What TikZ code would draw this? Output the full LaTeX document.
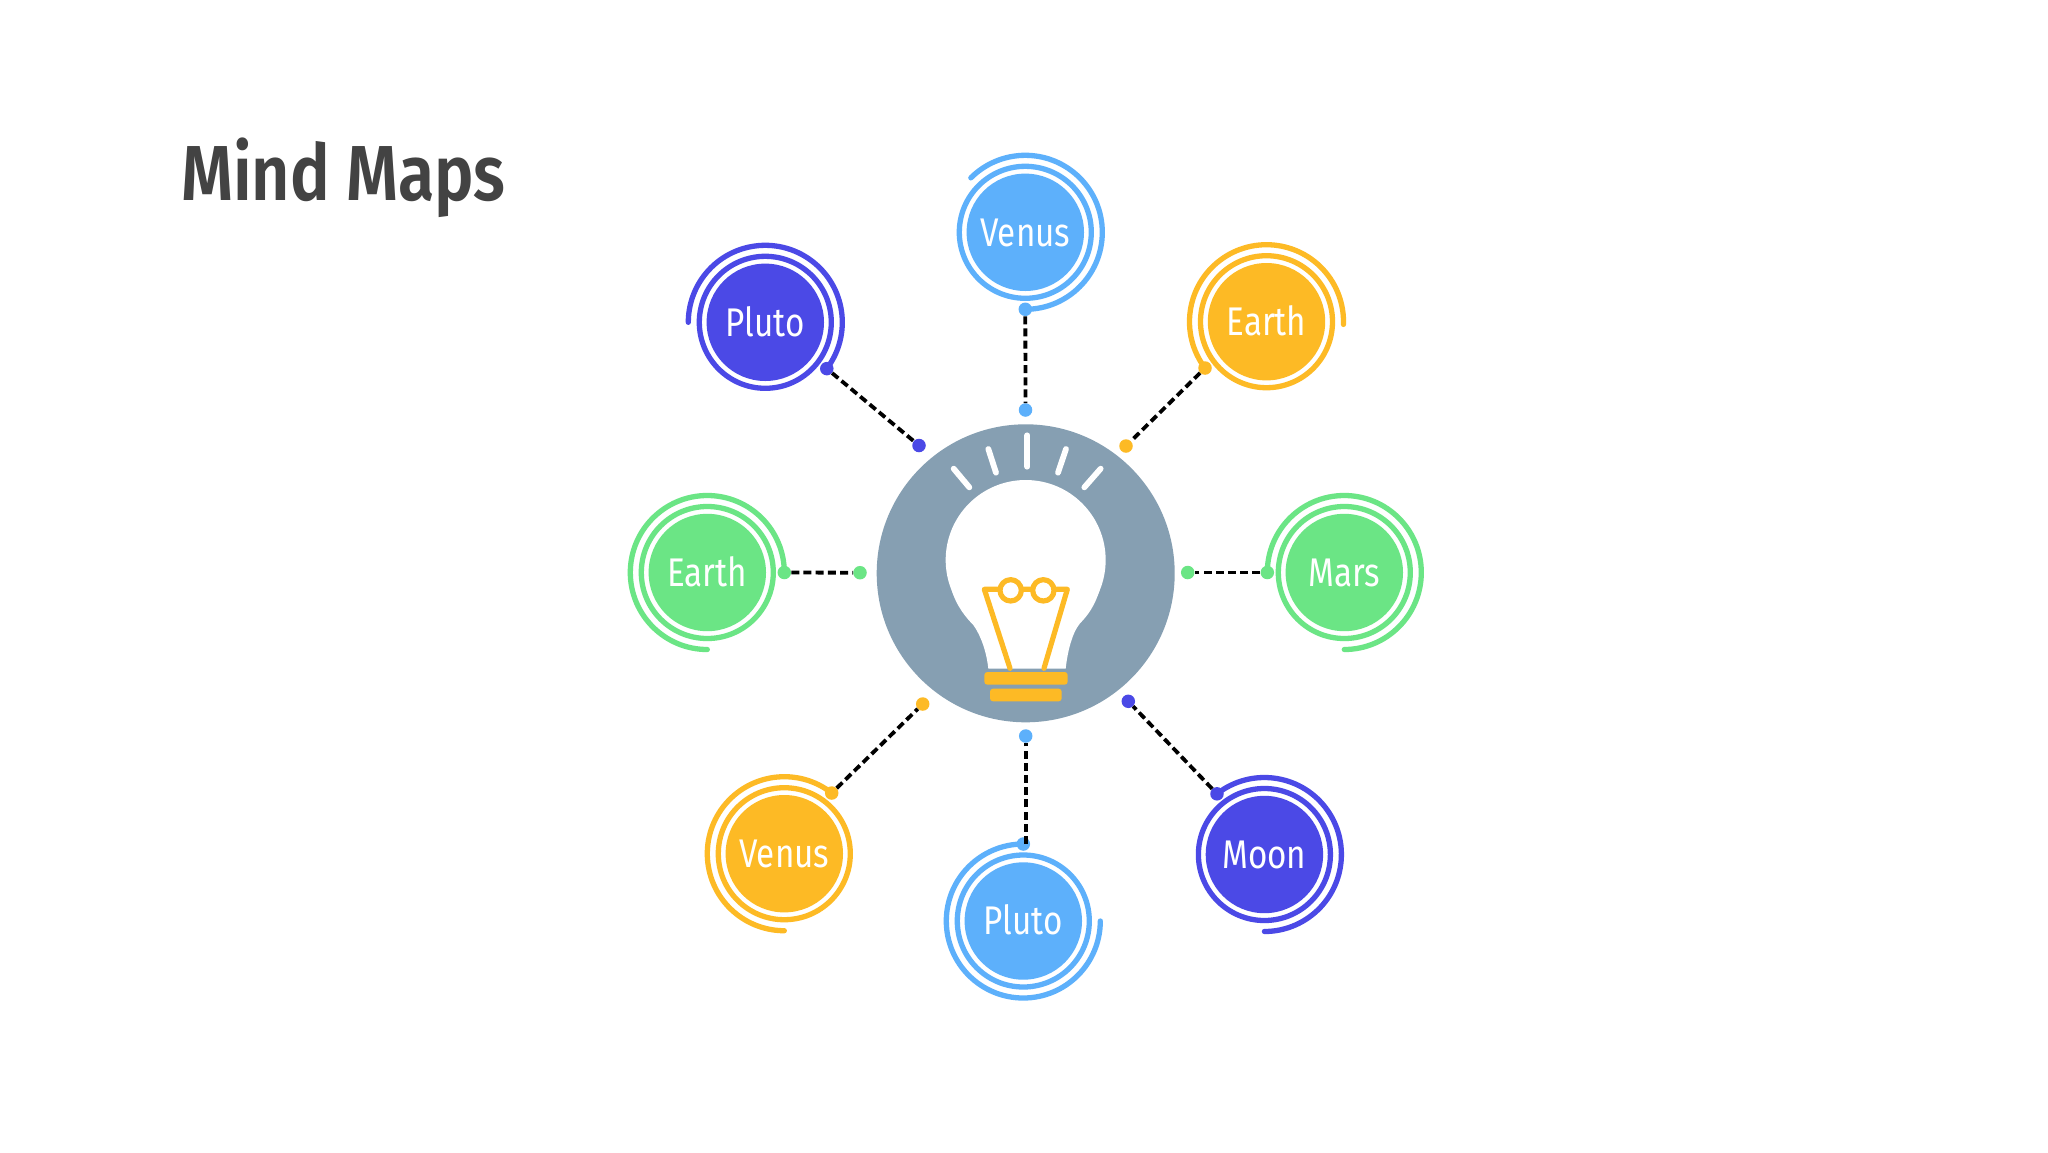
\documentclass[tikz,border=0pt]{standalone}
\usepackage{fontspec}
\setmainfont{Fira Sans}[FakeStretch=0.83]
\newfontfamily\titlefont{Fira Sans SemiBold}[FakeStretch=0.85]
\usetikzlibrary{calc}
\definecolor{cblue}{HTML}{5DB0FB}
\definecolor{cindigo}{HTML}{4B49E6}
\definecolor{camber}{HTML}{FDBA25}
\definecolor{cgreen}{HTML}{6BE585}
\definecolor{cslate}{HTML}{869FB2}
\definecolor{ctitle}{HTML}{434343}
\tikzset{
  hub/.style={circle,fill=#1,draw=none,minimum size=117.4pt,inner sep=0pt,text=white,text height=27.4pt,text depth=0pt,font=\fontsize{40}{48}\selectfont},
  ringline/.style={draw=#1,line width=5.3pt,fill=none},
  spiral/.style={draw=#1,line width=5.3pt,line cap=round},
  joint/.style={circle,fill=#1,draw=none,minimum size=13.5pt,inner sep=0pt},
  link/.style={draw=black,line width=3.8pt,dash pattern=on 8pt off 4.2pt},
  rayline/.style={draw=white,line width=5.8pt,line cap=round},
  wire/.style={draw=camber,line width=5.2pt,line join=round,line cap=round},
}
% #1 name, #2 x, #3 y, #4 colour, #5 text, #6 start angle, #7 end angle
\newcommand{\planet}[7]{%
  \node[hub=#4] (#1) at (#2,#3) {#5};
  \draw[ringline=#4] (#1.center) circle[radius=66pt];
  \draw[spiral=#4] (#1.center) ++(#6:77pt) arc[start angle=#6,end angle=#7,radius=77pt];
  \node[joint=#4] (#1j) at ($(#1.center)+(#6:77pt)$) {};
}
\begin{document}
\begin{tikzpicture}[x=1pt,y=1pt]
\useasboundingbox[fill=white] (0,0) rectangle (2048,-1152);
\node[anchor=base west,inner sep=0pt,text=ctitle,font=\fontsize{78}{90}\titlefont] (title) at (181,-200) {Mind Maps};

% centre
\node[circle,fill=cslate,minimum size=298pt,inner sep=0pt] (core) at (1025.7,-573.3) {};
\begin{scope}[shift={(860,-410)},x=0.33333pt,y=-0.33333pt]
  \fill[white] (497,450) circle[radius=80pt];
  \fill[white] (385,776) .. controls (380,730) and (365,680) .. (340,645)
     .. controls (320,625) and (290,590) .. (275,540) -- (719,540)
     .. controls (705,585) and (685,615) .. (660,640)
     .. controls (635,670) and (622,730) .. (617,776) -- cycle;
  \draw[rayline] (281,176) -- (328,232);
  \draw[rayline] (385,117) -- (408,188);
  \draw[rayline] (502,76) -- (502,170);
  \draw[rayline] (618,117) -- (594,188);
  \draw[rayline] (722,176) -- (673,232);
  \draw[wire] (450,775) -- (373,538) -- (622,538) -- (552,775);
  \draw[wire,fill=white] (452,541) circle[radius=32];
  \draw[wire,fill=white] (550,541) circle[radius=32];
  \fill[camber,rounded corners=3pt] (373,786) rectangle (623,824);
  \fill[camber,rounded corners=3pt] (390,836) rectangle (605,874);
\end{scope}

% outer planets
\planet{venusT}{1025.3}{-232.3}{cblue}{Venus}{-90}{135}
\planet{plutoT}{765.3}{-322.3}{cindigo}{Pluto}{-37}{180}
\planet{earthT}{1266.5}{-321.7}{camber}{Earth}{217}{-2}
\planet{mars}{1344.3}{-572.5}{cgreen}{Mars}{180}{-90}
\planet{earthL}{707.3}{-572.5}{cgreen}{Earth}{0}{270}
\planet{venusB}{784.3}{-853.7}{camber}{Venus}{52}{270}
\planet{plutoB}{1023.3}{-921}{cblue}{Pluto}{90}{360}
\planet{moon}{1264.4}{-854.5}{cindigo}{Moon}{128}{-90}

% hub-side joints
\node[joint=cblue]   (a1) at (1025.5,-410) {};
\node[joint=cindigo] (a2) at (919,-445.5) {};
\node[joint=camber]  (a3) at (1126,-446) {};
\node[joint=cgreen]  (a4) at (1187.7,-572.5) {};
\node[joint=cgreen]  (a5) at (860,-572.7) {};
\node[joint=camber]  (a6) at (922.7,-704) {};
\node[joint=cblue]   (a7) at (1025.7,-736) {};
\node[joint=cindigo] (a8) at (1128.3,-701.3) {};

\draw[link] (venusTj) -- (a1);
\draw[link] (plutoTj) -- (a2);
\draw[link] (earthTj) -- (a3);
\draw[link] (marsj) -- (a4);
\draw[link] (earthLj) -- (a5);
\draw[link] (venusBj) -- (a6);
\draw[link] (a7 |- plutoBj) -- (a7);
\draw[link] (moonj) -- (a8);
\end{tikzpicture}
\end{document}
